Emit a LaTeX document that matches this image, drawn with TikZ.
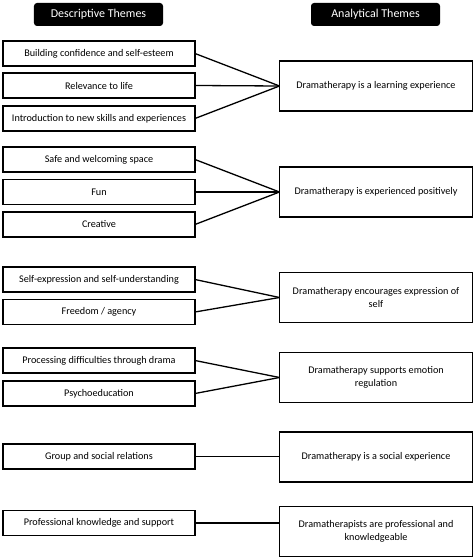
\documentclass[tikz,border=0pt]{standalone}
\usepackage{fontspec}
\setmainfont{Carlito}
\begin{document}
\begin{tikzpicture}[x=1bp,y=-1bp,
  desc/.style={draw=black,line width=1.3bp,fill=white,minimum width=192bp,minimum height=25bp,inner sep=0pt,outer sep=0pt,font=\fontsize{10.2bp}{12bp}\selectfont},
  anal/.style={draw=black,line width=1.3bp,fill=white,minimum width=193bp,minimum height=50bp,inner sep=0pt,outer sep=0pt,align=center,font=\fontsize{10.2bp}{13.5bp}\selectfont},
  head/.style={fill=black,rounded corners=3bp,minimum width=129bp,minimum height=23bp,inner sep=0pt,text=white,font=\fontsize{12bp}{14bp}\selectfont},
  link/.style={draw=black,line width=1.3bp}]
\useasboundingbox (0,0) rectangle (474,559);
\node[head] (hd) at (98.5,14.5) {Descriptive Themes};
\node[head] (ha) at (375.5,14.5) {Analytical Themes};
% group 1
\node[desc] (a1) at (99,53.5) {Building confidence and self-esteem};
\node[desc] (a2) at (99,85.5) {Relevance to life};
\node[desc] (a3) at (99,118.5) {Introduction to new skills and experiences};
\node[anal] (A) at (376,86) {Dramatherapy is a learning experience};
% group 2
\node[desc] (b1) at (99,159.5) {Safe and welcoming space};
\node[desc] (b2) at (99,192) {Fun};
\node[desc] (b3) at (99,224.5) {Creative};
\node[anal] (B) at (376,192) {Dramatherapy is experienced positively};
% group 3
\node[desc] (c1) at (99,279.5) {Self-expression and self-understanding};
\node[desc] (c2) at (99,312) {Freedom / agency};
\node[anal] (C) at (376,297.5) {Dramatherapy encourages expression of\\ self};
% group 4
\node[desc] (d1) at (99,360.5) {Processing difficulties through drama};
\node[desc] (d2) at (99,393.5) {Psychoeducation};
\node[anal] (D) at (376,377.5) {Dramatherapy supports emotion\\ regulation};
% group 5
\node[desc] (e1) at (99,456.5) {Group and social relations};
\node[anal] (E) at (376,457) {Dramatherapy is a social experience};
% group 6
\node[desc] (f1) at (99,523) {Professional knowledge and support};
\node[anal] (F) at (376,531.5) {Dramatherapists are professional and\\ knowledgeable};
% links
\foreach \s/\t in {a1/A,a2/A,a3/A,b1/B,b2/B,b3/B,c1/C,c2/C,d1/D,d2/D}
  \draw[link] (\s.east) -- (\t.west);
\draw[link] (e1.east) -- (e1.east -| E.west);
\draw[link] (f1.east) -- (f1.east -| F.west);
\end{tikzpicture}
\end{document}
